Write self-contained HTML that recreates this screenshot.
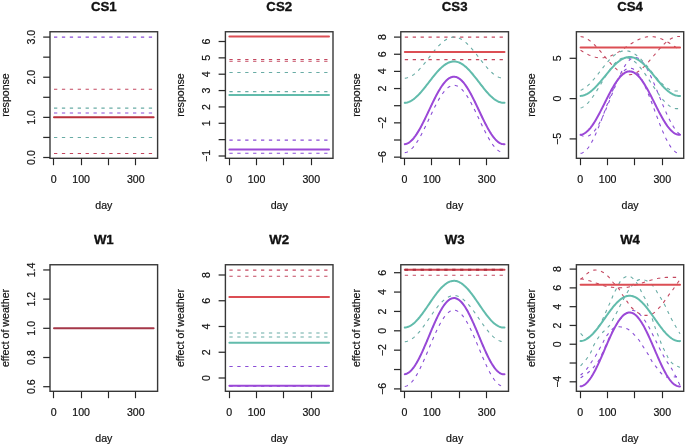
<!DOCTYPE html><html><head><meta charset="utf-8"><style>html,body{margin:0;padding:0;background:#fff;}svg{display:block}text{font-family:"Liberation Sans",Arial,sans-serif;fill:#111;stroke:#111;stroke-width:0.2px}text.t{stroke-width:0.35px}</style></head><body>
<svg width="685" height="445" viewBox="0 0 685 445">
<rect width="685" height="445" fill="#fff"/>
<defs><clipPath id="c00"><rect x="50.0" y="31.75" width="107.6" height="126.55000000000001"/></clipPath></defs>
<g clip-path="url(#c00)">
<path d="M53.99,37.1 L153.61,37.1" fill="none" stroke="rgb(138,78,214)" stroke-width="1.1" stroke-dasharray="3.3 4.6"/>
<path d="M53.99,112.95 L153.61,112.95" fill="none" stroke="rgb(138,78,214)" stroke-width="1.1" stroke-dasharray="3.3 4.6"/>
<path d="M53.99,108.14 L153.61,108.14" fill="none" stroke="rgb(105,172,165)" stroke-width="1.1" stroke-dasharray="3.3 4.6"/>
<path d="M53.99,137.43 L153.61,137.43" fill="none" stroke="rgb(105,172,165)" stroke-width="1.1" stroke-dasharray="3.3 4.6"/>
<path d="M53.99,89.27 L153.61,89.27" fill="none" stroke="rgb(196,72,96)" stroke-width="1.1" stroke-dasharray="3.3 4.6"/>
<path d="M53.99,153.49 L153.61,153.49" fill="none" stroke="rgb(196,72,96)" stroke-width="1.1" stroke-dasharray="3.3 4.6"/>
<path d="M53.99,117.37 L153.61,117.37" fill="none" stroke="rgb(185,48,60)" stroke-width="2.0" stroke-linecap="round" stroke-linejoin="round"/>
</g>
<rect x="50.0" y="31.75" width="107.6" height="126.55" fill="none" stroke="#383838" stroke-width="1.4"/>
<line x1="43.2" y1="157.5" x2="50.0" y2="157.5" stroke="#2a2a2a" stroke-width="1.25"/>
<text x="34.8" y="157.5" font-size="10.6" text-anchor="middle" transform="rotate(-90 34.8 157.5)">0.0</text>
<line x1="43.2" y1="137.43" x2="50.0" y2="137.43" stroke="#2a2a2a" stroke-width="1.25"/>
<line x1="43.2" y1="117.37" x2="50.0" y2="117.37" stroke="#2a2a2a" stroke-width="1.25"/>
<text x="34.8" y="117.37" font-size="10.6" text-anchor="middle" transform="rotate(-90 34.8 117.37)">1.0</text>
<line x1="43.2" y1="97.3" x2="50.0" y2="97.3" stroke="#2a2a2a" stroke-width="1.25"/>
<line x1="43.2" y1="77.23" x2="50.0" y2="77.23" stroke="#2a2a2a" stroke-width="1.25"/>
<text x="34.8" y="77.23" font-size="10.6" text-anchor="middle" transform="rotate(-90 34.8 77.23)">2.0</text>
<line x1="43.2" y1="57.17" x2="50.0" y2="57.17" stroke="#2a2a2a" stroke-width="1.25"/>
<line x1="43.2" y1="37.1" x2="50.0" y2="37.1" stroke="#2a2a2a" stroke-width="1.25"/>
<text x="34.8" y="37.1" font-size="10.6" text-anchor="middle" transform="rotate(-90 34.8 37.1)">3.0</text>
<line x1="53.5" y1="158.3" x2="53.5" y2="165.2" stroke="#262626" stroke-width="1.15"/>
<text x="53.71" y="182.5" font-size="10.6" text-anchor="middle">0</text>
<line x1="81.5" y1="158.3" x2="81.5" y2="165.2" stroke="#262626" stroke-width="1.15"/>
<text x="81.08" y="182.5" font-size="10.6" text-anchor="middle">100</text>
<line x1="108.5" y1="158.3" x2="108.5" y2="165.2" stroke="#262626" stroke-width="1.15"/>
<line x1="135.5" y1="158.3" x2="135.5" y2="165.2" stroke="#262626" stroke-width="1.15"/>
<text x="135.82" y="182.5" font-size="10.6" text-anchor="middle">300</text>
<text x="103.8" y="208.5" font-size="10.6" text-anchor="middle">day</text>
<text x="8.9" y="95.03" font-size="10.6" text-anchor="middle" transform="rotate(-90 8.9 95.03)">response</text>
<text x="103.8" y="10.9" font-size="13.2" font-weight="bold" text-anchor="middle" class="t">CS1</text>
<defs><clipPath id="c10"><rect x="225.4" y="31.75" width="107.6" height="126.55000000000001"/></clipPath></defs>
<g clip-path="url(#c10)">
<path d="M229.39,59.49 L329.01,59.49" fill="none" stroke="rgb(196,72,96)" stroke-width="1.1" stroke-dasharray="3.3 4.6"/>
<path d="M229.39,61.29 L329.01,61.29" fill="none" stroke="rgb(196,72,96)" stroke-width="1.1" stroke-dasharray="3.3 4.6"/>
<path d="M229.39,72.51 L329.01,72.51" fill="none" stroke="rgb(105,172,165)" stroke-width="1.1" stroke-dasharray="3.3 4.6"/>
<path d="M229.39,91.62 L329.01,91.62" fill="none" stroke="rgb(105,172,165)" stroke-width="1.1" stroke-dasharray="3.3 4.6"/>
<path d="M229.39,140.1 L329.01,140.1" fill="none" stroke="rgb(138,78,214)" stroke-width="1.1" stroke-dasharray="3.3 4.6"/>
<path d="M229.39,153.3 L329.01,153.3" fill="none" stroke="rgb(138,78,214)" stroke-width="1.1" stroke-dasharray="3.3 4.6"/>
<path d="M229.39,95 L329.01,95" fill="none" stroke="rgb(98,188,172)" stroke-width="2.0" stroke-linecap="round" stroke-linejoin="round"/>
<path d="M229.39,149.51 L329.01,149.51" fill="none" stroke="rgb(155,72,215)" stroke-width="2.0" stroke-linecap="round" stroke-linejoin="round"/>
<path d="M229.39,36.43 L329.01,36.43" fill="none" stroke="rgb(220,78,84)" stroke-width="2.0" stroke-linecap="round" stroke-linejoin="round"/>
</g>
<rect x="225.4" y="31.75" width="107.6" height="126.55" fill="none" stroke="#383838" stroke-width="1.4"/>
<line x1="218.6" y1="156" x2="225.4" y2="156" stroke="#2a2a2a" stroke-width="1.25"/>
<text x="210.2" y="156" font-size="10.6" text-anchor="middle" transform="rotate(-90 210.2 156)">−1</text>
<line x1="218.6" y1="139.64" x2="225.4" y2="139.64" stroke="#2a2a2a" stroke-width="1.25"/>
<line x1="218.6" y1="123.29" x2="225.4" y2="123.29" stroke="#2a2a2a" stroke-width="1.25"/>
<text x="210.2" y="123.29" font-size="10.6" text-anchor="middle" transform="rotate(-90 210.2 123.29)">1</text>
<line x1="218.6" y1="106.93" x2="225.4" y2="106.93" stroke="#2a2a2a" stroke-width="1.25"/>
<text x="210.2" y="106.93" font-size="10.6" text-anchor="middle" transform="rotate(-90 210.2 106.93)">2</text>
<line x1="218.6" y1="90.57" x2="225.4" y2="90.57" stroke="#2a2a2a" stroke-width="1.25"/>
<text x="210.2" y="90.57" font-size="10.6" text-anchor="middle" transform="rotate(-90 210.2 90.57)">3</text>
<line x1="218.6" y1="74.21" x2="225.4" y2="74.21" stroke="#2a2a2a" stroke-width="1.25"/>
<text x="210.2" y="74.21" font-size="10.6" text-anchor="middle" transform="rotate(-90 210.2 74.21)">4</text>
<line x1="218.6" y1="57.86" x2="225.4" y2="57.86" stroke="#2a2a2a" stroke-width="1.25"/>
<text x="210.2" y="57.86" font-size="10.6" text-anchor="middle" transform="rotate(-90 210.2 57.86)">5</text>
<line x1="218.6" y1="41.5" x2="225.4" y2="41.5" stroke="#2a2a2a" stroke-width="1.25"/>
<text x="210.2" y="41.5" font-size="10.6" text-anchor="middle" transform="rotate(-90 210.2 41.5)">6</text>
<line x1="229.5" y1="158.3" x2="229.5" y2="165.2" stroke="#262626" stroke-width="1.15"/>
<text x="229.11" y="182.5" font-size="10.6" text-anchor="middle">0</text>
<line x1="256.5" y1="158.3" x2="256.5" y2="165.2" stroke="#262626" stroke-width="1.15"/>
<text x="256.48" y="182.5" font-size="10.6" text-anchor="middle">100</text>
<line x1="283.5" y1="158.3" x2="283.5" y2="165.2" stroke="#262626" stroke-width="1.15"/>
<line x1="311.5" y1="158.3" x2="311.5" y2="165.2" stroke="#262626" stroke-width="1.15"/>
<text x="311.22" y="182.5" font-size="10.6" text-anchor="middle">300</text>
<text x="279.2" y="208.5" font-size="10.6" text-anchor="middle">day</text>
<text x="184.3" y="95.03" font-size="10.6" text-anchor="middle" transform="rotate(-90 184.3 95.03)">response</text>
<text x="279.2" y="10.9" font-size="13.2" font-weight="bold" text-anchor="middle" class="t">CS2</text>
<defs><clipPath id="c20"><rect x="400.8" y="31.75" width="107.69999999999999" height="126.55000000000001"/></clipPath></defs>
<g clip-path="url(#c20)">
<path d="M404.79,37.1 L504.51,37.1" fill="none" stroke="rgb(196,72,96)" stroke-width="1.1" stroke-dasharray="3.3 4.6"/>
<path d="M404.79,59.65 L504.51,59.65" fill="none" stroke="rgb(196,72,96)" stroke-width="1.1" stroke-dasharray="3.3 4.6"/>
<path d="M404.79,78.23 L405.62,78.15 L406.45,78.01 L407.28,77.82 L408.11,77.57 L408.94,77.26 L409.78,76.9 L410.61,76.5 L411.44,76.03 L412.27,75.52 L413.1,74.96 L413.93,74.36 L414.76,73.71 L415.59,73.01 L416.42,72.27 L417.25,71.49 L418.09,70.68 L418.92,69.83 L419.75,68.95 L420.58,68.03 L421.41,67.09 L422.24,66.12 L423.07,65.13 L423.9,64.12 L424.73,63.09 L425.56,62.05 L426.4,60.99 L427.23,59.93 L428.06,58.85 L428.89,57.78 L429.72,56.71 L430.55,55.63 L431.38,54.57 L432.21,53.51 L433.04,52.46 L433.87,51.43 L434.71,50.42 L435.54,49.42 L436.37,48.45 L437.2,47.5 L438.03,46.58 L438.86,45.69 L439.69,44.84 L440.52,44.01 L441.35,43.23 L442.18,42.49 L443.02,41.78 L443.85,41.12 L444.68,40.51 L445.51,39.94 L446.34,39.42 L447.17,38.95 L448,38.53 L448.83,38.16 L449.66,37.85 L450.49,37.59 L451.33,37.38 L452.16,37.23 L452.99,37.14 L453.82,37.1 L454.65,37.12 L455.48,37.19 L456.31,37.32 L457.14,37.51 L457.97,37.75 L458.81,38.04 L459.64,38.39 L460.47,38.79 L461.3,39.25 L462.13,39.75 L462.96,40.3 L463.79,40.9 L464.62,41.54 L465.45,42.23 L466.28,42.96 L467.12,43.73 L467.95,44.54 L468.78,45.39 L469.61,46.27 L470.44,47.18 L471.27,48.11 L472.1,49.08 L472.93,50.07 L473.76,51.07 L474.59,52.1 L475.43,53.14 L476.26,54.2 L477.09,55.26 L477.92,56.33 L478.75,57.4 L479.58,58.48 L480.41,59.55 L481.24,60.62 L482.07,61.68 L482.9,62.72 L483.74,63.76 L484.57,64.78 L485.4,65.77 L486.23,66.75 L487.06,67.7 L487.89,68.63 L488.72,69.52 L489.55,70.38 L490.38,71.21 L491.21,72 L492.05,72.75 L492.88,73.47 L493.71,74.13 L494.54,74.76 L495.37,75.33 L496.2,75.86 L497.03,76.34 L497.86,76.77 L498.69,77.14 L499.52,77.46 L500.36,77.73 L501.19,77.95 L502.02,78.11 L502.85,78.21 L503.68,78.26 L504.51,78.25" fill="none" stroke="rgb(105,172,165)" stroke-width="1.1" stroke-dasharray="3.3 4.6"/>
<path d="M404.79,102.84 L405.62,102.76 L406.45,102.62 L407.28,102.42 L408.11,102.17 L408.94,101.87 L409.78,101.51 L410.61,101.09 L411.44,100.63 L412.27,100.12 L413.1,99.55 L413.93,98.94 L414.76,98.29 L415.59,97.59 L416.42,96.84 L417.25,96.06 L418.09,95.24 L418.92,94.39 L419.75,93.5 L420.58,92.58 L421.41,91.63 L422.24,90.66 L423.07,89.66 L423.9,88.64 L424.73,87.6 L425.56,86.55 L426.4,85.49 L427.23,84.42 L428.06,83.34 L428.89,82.26 L429.72,81.18 L430.55,80.1 L431.38,79.03 L432.21,77.97 L433.04,76.91 L433.87,75.88 L434.71,74.85 L435.54,73.85 L436.37,72.87 L437.2,71.92 L438.03,71 L438.86,70.1 L439.69,69.24 L440.52,68.41 L441.35,67.62 L442.18,66.87 L443.02,66.16 L443.85,65.5 L444.68,64.88 L445.51,64.31 L446.34,63.78 L447.17,63.31 L448,62.89 L448.83,62.52 L449.66,62.2 L450.49,61.94 L451.33,61.74 L452.16,61.59 L452.99,61.49 L453.82,61.45 L454.65,61.47 L455.48,61.55 L456.31,61.68 L457.14,61.86 L457.97,62.11 L458.81,62.4 L459.64,62.75 L460.47,63.16 L461.3,63.61 L462.13,64.12 L462.96,64.67 L463.79,65.28 L464.62,65.93 L465.45,66.62 L466.28,67.35 L467.12,68.13 L467.95,68.94 L468.78,69.79 L469.61,70.68 L470.44,71.59 L471.27,72.54 L472.1,73.51 L472.93,74.5 L473.76,75.51 L474.59,76.55 L475.43,77.59 L476.26,78.66 L477.09,79.73 L477.92,80.8 L478.75,81.88 L479.58,82.96 L480.41,84.04 L481.24,85.12 L482.07,86.18 L482.9,87.24 L483.74,88.28 L484.57,89.3 L485.4,90.31 L486.23,91.29 L487.06,92.25 L487.89,93.18 L488.72,94.08 L489.55,94.95 L490.38,95.78 L491.21,96.57 L492.05,97.33 L492.88,98.05 L493.71,98.72 L494.54,99.34 L495.37,99.92 L496.2,100.46 L497.03,100.94 L497.86,101.37 L498.69,101.75 L499.52,102.07 L500.36,102.34 L501.19,102.56 L502.02,102.72 L502.85,102.82 L503.68,102.87 L504.51,102.86" fill="none" stroke="rgb(105,172,165)" stroke-width="1.1" stroke-dasharray="3.3 4.6"/>
<path d="M404.79,152.65 L405.62,152.51 L406.45,152.28 L407.28,151.96 L408.11,151.55 L408.94,151.06 L409.78,150.47 L410.61,149.8 L411.44,149.05 L412.27,148.21 L413.1,147.29 L413.93,146.3 L414.76,145.23 L415.59,144.09 L416.42,142.89 L417.25,141.61 L418.09,140.28 L418.92,138.89 L419.75,137.44 L420.58,135.94 L421.41,134.4 L422.24,132.81 L423.07,131.19 L423.9,129.53 L424.73,127.85 L425.56,126.14 L426.4,124.41 L427.23,122.67 L428.06,120.91 L428.89,119.16 L429.72,117.4 L430.55,115.64 L431.38,113.9 L432.21,112.16 L433.04,110.45 L433.87,108.76 L434.71,107.1 L435.54,105.47 L436.37,103.88 L437.2,102.33 L438.03,100.82 L438.86,99.36 L439.69,97.96 L440.52,96.61 L441.35,95.33 L442.18,94.11 L443.02,92.96 L443.85,91.88 L444.68,90.87 L445.51,89.94 L446.34,89.09 L447.17,88.32 L448,87.63 L448.83,87.03 L449.66,86.51 L450.49,86.09 L451.33,85.75 L452.16,85.51 L452.99,85.35 L453.82,85.29 L454.65,85.32 L455.48,85.44 L456.31,85.66 L457.14,85.96 L457.97,86.36 L458.81,86.84 L459.64,87.41 L460.47,88.07 L461.3,88.81 L462.13,89.63 L462.96,90.53 L463.79,91.51 L464.62,92.57 L465.45,93.7 L466.28,94.89 L467.12,96.16 L467.95,97.48 L468.78,98.86 L469.61,100.3 L470.44,101.79 L471.27,103.33 L472.1,104.91 L472.93,106.52 L473.76,108.17 L474.59,109.85 L475.43,111.56 L476.26,113.29 L477.09,115.03 L477.92,116.78 L478.75,118.54 L479.58,120.3 L480.41,122.05 L481.24,123.8 L482.07,125.53 L482.9,127.25 L483.74,128.94 L484.57,130.61 L485.4,132.25 L486.23,133.85 L487.06,135.4 L487.89,136.92 L488.72,138.38 L489.55,139.79 L490.38,141.15 L491.21,142.45 L492.05,143.68 L492.88,144.84 L493.71,145.93 L494.54,146.95 L495.37,147.9 L496.2,148.76 L497.03,149.55 L497.86,150.25 L498.69,150.86 L499.52,151.39 L500.36,151.83 L501.19,152.18 L502.02,152.44 L502.85,152.61 L503.68,152.69 L504.51,152.67" fill="none" stroke="rgb(138,78,214)" stroke-width="1.1" stroke-dasharray="3.3 4.6"/>
<path d="M404.79,144.16 L405.62,144.02 L406.45,143.79 L407.28,143.47 L408.11,143.06 L408.94,142.57 L409.78,141.98 L410.61,141.31 L411.44,140.55 L412.27,139.71 L413.1,138.8 L413.93,137.8 L414.76,136.73 L415.59,135.59 L416.42,134.38 L417.25,133.11 L418.09,131.77 L418.92,130.38 L419.75,128.93 L420.58,127.43 L421.41,125.89 L422.24,124.3 L423.07,122.67 L423.9,121.01 L424.73,119.33 L425.56,117.62 L426.4,115.89 L427.23,114.14 L428.06,112.38 L428.89,110.62 L429.72,108.86 L430.55,107.11 L431.38,105.36 L432.21,103.62 L433.04,101.91 L433.87,100.22 L434.71,98.55 L435.54,96.92 L436.37,95.33 L437.2,93.77 L438.03,92.26 L438.86,90.81 L439.69,89.4 L440.52,88.05 L441.35,86.77 L442.18,85.55 L443.02,84.39 L443.85,83.31 L444.68,82.3 L445.51,81.37 L446.34,80.52 L447.17,79.74 L448,79.06 L448.83,78.46 L449.66,77.94 L450.49,77.52 L451.33,77.18 L452.16,76.93 L452.99,76.78 L453.82,76.72 L454.65,76.75 L455.48,76.87 L456.31,77.08 L457.14,77.39 L457.97,77.78 L458.81,78.26 L459.64,78.84 L460.47,79.49 L461.3,80.24 L462.13,81.06 L462.96,81.96 L463.79,82.95 L464.62,84 L465.45,85.13 L466.28,86.33 L467.12,87.59 L467.95,88.92 L468.78,90.31 L469.61,91.75 L470.44,93.24 L471.27,94.77 L472.1,96.36 L472.93,97.97 L473.76,99.63 L474.59,101.31 L475.43,103.02 L476.26,104.75 L477.09,106.49 L477.92,108.24 L478.75,110 L479.58,111.77 L480.41,113.52 L481.24,115.27 L482.07,117.01 L482.9,118.73 L483.74,120.42 L484.57,122.09 L485.4,123.73 L486.23,125.33 L487.06,126.89 L487.89,128.41 L488.72,129.88 L489.55,131.29 L490.38,132.65 L491.21,133.94 L492.05,135.18 L492.88,136.34 L493.71,137.44 L494.54,138.46 L495.37,139.4 L496.2,140.27 L497.03,141.05 L497.86,141.75 L498.69,142.37 L499.52,142.9 L500.36,143.34 L501.19,143.69 L502.02,143.95 L502.85,144.12 L503.68,144.2 L504.51,144.18" fill="none" stroke="rgb(138,78,214)" stroke-width="1.1" stroke-dasharray="3.3 4.6"/>
<path d="M404.79,102.84 L405.62,102.76 L406.45,102.62 L407.28,102.42 L408.11,102.17 L408.94,101.87 L409.78,101.51 L410.61,101.09 L411.44,100.63 L412.27,100.12 L413.1,99.55 L413.93,98.94 L414.76,98.29 L415.59,97.59 L416.42,96.84 L417.25,96.06 L418.09,95.24 L418.92,94.39 L419.75,93.5 L420.58,92.58 L421.41,91.63 L422.24,90.66 L423.07,89.66 L423.9,88.64 L424.73,87.6 L425.56,86.55 L426.4,85.49 L427.23,84.42 L428.06,83.34 L428.89,82.26 L429.72,81.18 L430.55,80.1 L431.38,79.03 L432.21,77.97 L433.04,76.91 L433.87,75.88 L434.71,74.85 L435.54,73.85 L436.37,72.87 L437.2,71.92 L438.03,71 L438.86,70.1 L439.69,69.24 L440.52,68.41 L441.35,67.62 L442.18,66.87 L443.02,66.16 L443.85,65.5 L444.68,64.88 L445.51,64.31 L446.34,63.78 L447.17,63.31 L448,62.89 L448.83,62.52 L449.66,62.2 L450.49,61.94 L451.33,61.74 L452.16,61.59 L452.99,61.49 L453.82,61.45 L454.65,61.47 L455.48,61.55 L456.31,61.68 L457.14,61.86 L457.97,62.11 L458.81,62.4 L459.64,62.75 L460.47,63.16 L461.3,63.61 L462.13,64.12 L462.96,64.67 L463.79,65.28 L464.62,65.93 L465.45,66.62 L466.28,67.35 L467.12,68.13 L467.95,68.94 L468.78,69.79 L469.61,70.68 L470.44,71.59 L471.27,72.54 L472.1,73.51 L472.93,74.5 L473.76,75.51 L474.59,76.55 L475.43,77.59 L476.26,78.66 L477.09,79.73 L477.92,80.8 L478.75,81.88 L479.58,82.96 L480.41,84.04 L481.24,85.12 L482.07,86.18 L482.9,87.24 L483.74,88.28 L484.57,89.3 L485.4,90.31 L486.23,91.29 L487.06,92.25 L487.89,93.18 L488.72,94.08 L489.55,94.95 L490.38,95.78 L491.21,96.57 L492.05,97.33 L492.88,98.05 L493.71,98.72 L494.54,99.34 L495.37,99.92 L496.2,100.46 L497.03,100.94 L497.86,101.37 L498.69,101.75 L499.52,102.07 L500.36,102.34 L501.19,102.56 L502.02,102.72 L502.85,102.82 L503.68,102.87 L504.51,102.86" fill="none" stroke="rgb(98,188,172)" stroke-width="2.0" stroke-linecap="round" stroke-linejoin="round"/>
<path d="M404.79,144.16 L405.62,144.02 L406.45,143.79 L407.28,143.47 L408.11,143.06 L408.94,142.57 L409.78,141.98 L410.61,141.31 L411.44,140.55 L412.27,139.71 L413.1,138.8 L413.93,137.8 L414.76,136.73 L415.59,135.59 L416.42,134.38 L417.25,133.11 L418.09,131.77 L418.92,130.38 L419.75,128.93 L420.58,127.43 L421.41,125.89 L422.24,124.3 L423.07,122.67 L423.9,121.01 L424.73,119.33 L425.56,117.62 L426.4,115.89 L427.23,114.14 L428.06,112.38 L428.89,110.62 L429.72,108.86 L430.55,107.11 L431.38,105.36 L432.21,103.62 L433.04,101.91 L433.87,100.22 L434.71,98.55 L435.54,96.92 L436.37,95.33 L437.2,93.77 L438.03,92.26 L438.86,90.81 L439.69,89.4 L440.52,88.05 L441.35,86.77 L442.18,85.55 L443.02,84.39 L443.85,83.31 L444.68,82.3 L445.51,81.37 L446.34,80.52 L447.17,79.74 L448,79.06 L448.83,78.46 L449.66,77.94 L450.49,77.52 L451.33,77.18 L452.16,76.93 L452.99,76.78 L453.82,76.72 L454.65,76.75 L455.48,76.87 L456.31,77.08 L457.14,77.39 L457.97,77.78 L458.81,78.26 L459.64,78.84 L460.47,79.49 L461.3,80.24 L462.13,81.06 L462.96,81.96 L463.79,82.95 L464.62,84 L465.45,85.13 L466.28,86.33 L467.12,87.59 L467.95,88.92 L468.78,90.31 L469.61,91.75 L470.44,93.24 L471.27,94.77 L472.1,96.36 L472.93,97.97 L473.76,99.63 L474.59,101.31 L475.43,103.02 L476.26,104.75 L477.09,106.49 L477.92,108.24 L478.75,110 L479.58,111.77 L480.41,113.52 L481.24,115.27 L482.07,117.01 L482.9,118.73 L483.74,120.42 L484.57,122.09 L485.4,123.73 L486.23,125.33 L487.06,126.89 L487.89,128.41 L488.72,129.88 L489.55,131.29 L490.38,132.65 L491.21,133.94 L492.05,135.18 L492.88,136.34 L493.71,137.44 L494.54,138.46 L495.37,139.4 L496.2,140.27 L497.03,141.05 L497.86,141.75 L498.69,142.37 L499.52,142.9 L500.36,143.34 L501.19,143.69 L502.02,143.95 L502.85,144.12 L503.68,144.2 L504.51,144.18" fill="none" stroke="rgb(155,72,215)" stroke-width="2.0" stroke-linecap="round" stroke-linejoin="round"/>
<path d="M404.79,51.93 L504.51,51.93" fill="none" stroke="rgb(220,78,84)" stroke-width="2.0" stroke-linecap="round" stroke-linejoin="round"/>
</g>
<rect x="400.8" y="31.75" width="107.7" height="126.55" fill="none" stroke="#383838" stroke-width="1.4"/>
<line x1="394" y1="157.15" x2="400.8" y2="157.15" stroke="#2a2a2a" stroke-width="1.25"/>
<text x="385.6" y="157.15" font-size="10.6" text-anchor="middle" transform="rotate(-90 385.6 157.15)">−6</text>
<line x1="394" y1="140" x2="400.8" y2="140" stroke="#2a2a2a" stroke-width="1.25"/>
<line x1="394" y1="122.85" x2="400.8" y2="122.85" stroke="#2a2a2a" stroke-width="1.25"/>
<text x="385.6" y="122.85" font-size="10.6" text-anchor="middle" transform="rotate(-90 385.6 122.85)">−2</text>
<line x1="394" y1="105.7" x2="400.8" y2="105.7" stroke="#2a2a2a" stroke-width="1.25"/>
<line x1="394" y1="88.55" x2="400.8" y2="88.55" stroke="#2a2a2a" stroke-width="1.25"/>
<text x="385.6" y="88.55" font-size="10.6" text-anchor="middle" transform="rotate(-90 385.6 88.55)">2</text>
<line x1="394" y1="71.4" x2="400.8" y2="71.4" stroke="#2a2a2a" stroke-width="1.25"/>
<text x="385.6" y="71.4" font-size="10.6" text-anchor="middle" transform="rotate(-90 385.6 71.4)">4</text>
<line x1="394" y1="54.25" x2="400.8" y2="54.25" stroke="#2a2a2a" stroke-width="1.25"/>
<text x="385.6" y="54.25" font-size="10.6" text-anchor="middle" transform="rotate(-90 385.6 54.25)">6</text>
<line x1="394" y1="37.1" x2="400.8" y2="37.1" stroke="#2a2a2a" stroke-width="1.25"/>
<text x="385.6" y="37.1" font-size="10.6" text-anchor="middle" transform="rotate(-90 385.6 37.1)">8</text>
<line x1="404.5" y1="158.3" x2="404.5" y2="165.2" stroke="#262626" stroke-width="1.15"/>
<text x="404.51" y="182.5" font-size="10.6" text-anchor="middle">0</text>
<line x1="431.5" y1="158.3" x2="431.5" y2="165.2" stroke="#262626" stroke-width="1.15"/>
<text x="431.91" y="182.5" font-size="10.6" text-anchor="middle">100</text>
<line x1="459.5" y1="158.3" x2="459.5" y2="165.2" stroke="#262626" stroke-width="1.15"/>
<line x1="486.5" y1="158.3" x2="486.5" y2="165.2" stroke="#262626" stroke-width="1.15"/>
<text x="486.7" y="182.5" font-size="10.6" text-anchor="middle">300</text>
<text x="454.65" y="208.5" font-size="10.6" text-anchor="middle">day</text>
<text x="359.7" y="95.03" font-size="10.6" text-anchor="middle" transform="rotate(-90 359.7 95.03)">response</text>
<text x="454.65" y="10.9" font-size="13.2" font-weight="bold" text-anchor="middle" class="t">CS3</text>
<defs><clipPath id="c30"><rect x="576.4" y="31.75" width="107.30000000000007" height="126.55000000000001"/></clipPath></defs>
<g clip-path="url(#c30)">
<path d="M580.58,36.56 L581.41,36.68 L582.24,36.85 L583.06,37.08 L583.89,37.35 L584.72,37.67 L585.55,38.05 L586.38,38.47 L587.21,38.93 L588.04,39.45 L588.86,40 L589.69,40.6 L590.52,41.24 L591.35,41.92 L592.18,42.64 L593.01,43.39 L593.84,44.18 L594.67,44.99 L595.49,45.84 L596.32,46.71 L597.15,47.6 L597.98,48.52 L598.81,49.46 L599.64,50.41 L600.47,51.38 L601.3,52.36 L602.12,53.35 L602.95,54.34 L603.78,55.34 L604.61,56.34 L605.44,57.34 L606.27,58.33 L607.1,59.31 L607.92,60.29 L608.75,61.25 L609.58,62.2 L610.41,63.12 L611.24,64.03 L612.07,64.92 L612.9,65.77 L613.73,66.61 L614.55,67.41 L615.38,68.18 L616.21,68.91 L617.04,69.61 L617.87,70.27 L618.7,70.89 L619.53,71.47 L620.36,72.01 L621.18,72.5 L622.01,72.94 L622.84,73.34 L623.67,73.69 L624.5,73.99 L625.33,74.24 L626.16,74.44 L626.99,74.59 L627.81,74.68 L628.64,74.73 L629.47,74.72 L630.3,74.66 L631.13,74.54 L631.96,74.38 L632.79,74.16 L633.61,73.9 L634.44,73.58 L635.27,73.22 L636.1,72.81 L636.93,72.35 L637.76,71.84 L638.59,71.29 L639.42,70.7 L640.24,70.07 L641.07,69.39 L641.9,68.68 L642.73,67.94 L643.56,67.16 L644.39,66.34 L645.22,65.5 L646.05,64.64 L646.87,63.74 L647.7,62.83 L648.53,61.9 L649.36,60.94 L650.19,59.98 L651.02,59 L651.85,58.01 L652.67,57.02 L653.5,56.02 L654.33,55.02 L655.16,54.03 L655.99,53.03 L656.82,52.05 L657.65,51.07 L658.48,50.11 L659.3,49.16 L660.13,48.23 L660.96,47.32 L661.79,46.43 L662.62,45.56 L663.45,44.73 L664.28,43.92 L665.11,43.15 L665.93,42.41 L666.76,41.7 L667.59,41.03 L668.42,40.41 L669.25,39.82 L670.08,39.28 L670.91,38.78 L671.74,38.33 L672.56,37.92 L673.39,37.56 L674.22,37.26 L675.05,37 L675.88,36.79 L676.71,36.64 L677.54,36.53 L678.36,36.48 L679.19,36.48 L680.02,36.53" fill="none" stroke="rgb(196,72,96)" stroke-width="1.1" stroke-dasharray="3.3 4.6"/>
<path d="M580.58,50.25 L581.41,50.78 L582.24,51.3 L583.06,51.81 L583.89,52.3 L584.72,52.79 L585.55,53.25 L586.38,53.7 L587.21,54.13 L588.04,54.55 L588.86,54.94 L589.69,55.31 L590.52,55.66 L591.35,55.99 L592.18,56.29 L593.01,56.57 L593.84,56.82 L594.67,57.05 L595.49,57.25 L596.32,57.42 L597.15,57.57 L597.98,57.68 L598.81,57.77 L599.64,57.83 L600.47,57.86 L601.3,57.86 L602.12,57.84 L602.95,57.78 L603.78,57.7 L604.61,57.58 L605.44,57.44 L606.27,57.27 L607.1,57.07 L607.92,56.85 L608.75,56.6 L609.58,56.32 L610.41,56.02 L611.24,55.7 L612.07,55.35 L612.9,54.98 L613.73,54.59 L614.55,54.18 L615.38,53.75 L616.21,53.3 L617.04,52.84 L617.87,52.36 L618.7,51.86 L619.53,51.36 L620.36,50.84 L621.18,50.31 L622.01,49.78 L622.84,49.23 L623.67,48.69 L624.5,48.13 L625.33,47.58 L626.16,47.02 L626.99,46.47 L627.81,45.92 L628.64,45.37 L629.47,44.82 L630.3,44.28 L631.13,43.75 L631.96,43.23 L632.79,42.72 L633.61,42.23 L634.44,41.74 L635.27,41.28 L636.1,40.82 L636.93,40.39 L637.76,39.97 L638.59,39.58 L639.42,39.2 L640.24,38.85 L641.07,38.51 L641.9,38.21 L642.73,37.92 L643.56,37.67 L644.39,37.44 L645.22,37.23 L646.05,37.05 L646.87,36.91 L647.7,36.78 L648.53,36.69 L649.36,36.63 L650.19,36.59 L651.02,36.58 L651.85,36.61 L652.67,36.66 L653.5,36.74 L654.33,36.85 L655.16,36.99 L655.99,37.15 L656.82,37.34 L657.65,37.56 L658.48,37.81 L659.3,38.08 L660.13,38.38 L660.96,38.7 L661.79,39.04 L662.62,39.41 L663.45,39.8 L664.28,40.2 L665.11,40.63 L665.93,41.07 L666.76,41.54 L667.59,42.01 L668.42,42.5 L669.25,43.01 L670.08,43.52 L670.91,44.05 L671.74,44.59 L672.56,45.13 L673.39,45.67 L674.22,46.23 L675.05,46.78 L675.88,47.34 L676.71,47.89 L677.54,48.44 L678.36,48.99 L679.19,49.54 L680.02,50.08" fill="none" stroke="rgb(196,72,96)" stroke-width="1.1" stroke-dasharray="3.3 4.6"/>
<path d="M580.58,90.25 L581.41,89.92 L582.24,89.54 L583.06,89.1 L583.89,88.6 L584.72,88.06 L585.55,87.47 L586.38,86.83 L587.21,86.14 L588.04,85.41 L588.86,84.63 L589.69,83.82 L590.52,82.97 L591.35,82.08 L592.18,81.16 L593.01,80.21 L593.84,79.24 L594.67,78.24 L595.49,77.22 L596.32,76.18 L597.15,75.13 L597.98,74.07 L598.81,73 L599.64,71.92 L600.47,70.84 L601.3,69.76 L602.12,68.69 L602.95,67.63 L603.78,66.57 L604.61,65.53 L605.44,64.5 L606.27,63.5 L607.1,62.51 L607.92,61.56 L608.75,60.62 L609.58,59.72 L610.41,58.85 L611.24,58.02 L612.07,57.22 L612.9,56.46 L613.73,55.75 L614.55,55.07 L615.38,54.44 L616.21,53.85 L617.04,53.31 L617.87,52.82 L618.7,52.38 L619.53,51.99 L620.36,51.65 L621.18,51.36 L622.01,51.13 L622.84,50.95 L623.67,50.82 L624.5,50.74 L625.33,50.71 L626.16,50.74 L626.99,50.82 L627.81,50.96 L628.64,51.14 L629.47,51.38 L630.3,51.66 L631.13,52 L631.96,52.38 L632.79,52.81 L633.61,53.29 L634.44,53.81 L635.27,54.37 L636.1,54.98 L636.93,55.63 L637.76,56.31 L638.59,57.04 L639.42,57.79 L640.24,58.59 L641.07,59.41 L641.9,60.26 L642.73,61.14 L643.56,62.05 L644.39,62.98 L645.22,63.93 L646.05,64.89 L646.87,65.88 L647.7,66.88 L648.53,67.89 L649.36,68.9 L650.19,69.93 L651.02,70.96 L651.85,71.98 L652.67,73.01 L653.5,74.04 L654.33,75.05 L655.16,76.06 L655.99,77.05 L656.82,78.03 L657.65,78.99 L658.48,79.94 L659.3,80.86 L660.13,81.75 L660.96,82.62 L661.79,83.45 L662.62,84.26 L663.45,85.03 L664.28,85.76 L665.11,86.45 L665.93,87.1 L666.76,87.71 L667.59,88.27 L668.42,88.78 L669.25,89.25 L670.08,89.66 L670.91,90.02 L671.74,90.33 L672.56,90.59 L673.39,90.79 L674.22,90.93 L675.05,91.02 L675.88,91.05 L676.71,91.03 L677.54,90.94 L678.36,90.8 L679.19,90.6 L680.02,90.35" fill="none" stroke="rgb(105,172,165)" stroke-width="1.1" stroke-dasharray="3.3 4.6"/>
<path d="M580.58,108.09 L581.41,107.77 L582.24,107.38 L583.06,106.92 L583.89,106.39 L584.72,105.79 L585.55,105.13 L586.38,104.4 L587.21,103.61 L588.04,102.76 L588.86,101.85 L589.69,100.88 L590.52,99.86 L591.35,98.79 L592.18,97.68 L593.01,96.51 L593.84,95.31 L594.67,94.07 L595.49,92.79 L596.32,91.49 L597.15,90.16 L597.98,88.8 L598.81,87.43 L599.64,86.05 L600.47,84.66 L601.3,83.26 L602.12,81.86 L602.95,80.47 L603.78,79.08 L604.61,77.71 L605.44,76.35 L606.27,75.02 L607.1,73.71 L607.92,72.42 L608.75,71.18 L609.58,69.96 L610.41,68.79 L611.24,67.67 L612.07,66.59 L612.9,65.56 L613.73,64.58 L614.55,63.66 L615.38,62.8 L616.21,61.99 L617.04,61.26 L617.87,60.58 L618.7,59.97 L619.53,59.43 L620.36,58.96 L621.18,58.56 L622.01,58.22 L622.84,57.96 L623.67,57.77 L624.5,57.65 L625.33,57.6 L626.16,57.62 L626.99,57.72 L627.81,57.88 L628.64,58.1 L629.47,58.4 L630.3,58.76 L631.13,59.18 L631.96,59.67 L632.79,60.22 L633.61,60.82 L634.44,61.49 L635.27,62.2 L636.1,62.97 L636.93,63.79 L637.76,64.66 L638.59,65.58 L639.42,66.53 L640.24,67.53 L641.07,68.56 L641.9,69.63 L642.73,70.73 L643.56,71.86 L644.39,73.01 L645.22,74.19 L646.05,75.39 L646.87,76.61 L647.7,77.84 L648.53,79.09 L649.36,80.34 L650.19,81.6 L651.02,82.86 L651.85,84.13 L652.67,85.39 L653.5,86.65 L654.33,87.9 L655.16,89.13 L655.99,90.36 L656.82,91.56 L657.65,92.75 L658.48,93.92 L659.3,95.06 L660.13,96.17 L660.96,97.25 L661.79,98.3 L662.62,99.31 L663.45,100.28 L664.28,101.21 L665.11,102.1 L665.93,102.94 L666.76,103.73 L667.59,104.47 L668.42,105.16 L669.25,105.79 L670.08,106.36 L670.91,106.87 L671.74,107.33 L672.56,107.72 L673.39,108.04 L674.22,108.3 L675.05,108.49 L675.88,108.61 L676.71,108.67 L677.54,108.65 L678.36,108.57 L679.19,108.41 L680.02,108.18" fill="none" stroke="rgb(105,172,165)" stroke-width="1.1" stroke-dasharray="3.3 4.6"/>
<path d="M580.58,134.65 L581.41,135.2 L582.24,135.66 L583.06,136.02 L583.89,136.28 L584.72,136.44 L585.55,136.5 L586.38,136.46 L587.21,136.33 L588.04,136.09 L588.86,135.76 L589.69,135.32 L590.52,134.79 L591.35,134.16 L592.18,133.43 L593.01,132.61 L593.84,131.69 L594.67,130.68 L595.49,129.58 L596.32,128.4 L597.15,127.13 L597.98,125.78 L598.81,124.35 L599.64,122.84 L600.47,121.26 L601.3,119.61 L602.12,117.9 L602.95,116.13 L603.78,114.3 L604.61,112.42 L605.44,110.49 L606.27,108.52 L607.1,106.52 L607.92,104.49 L608.75,102.43 L609.58,100.35 L610.41,98.25 L611.24,96.15 L612.07,94.05 L612.9,91.95 L613.73,89.87 L614.55,87.79 L615.38,85.75 L616.21,83.73 L617.04,81.75 L617.87,79.8 L618.7,77.91 L619.53,76.07 L620.36,74.29 L621.18,72.57 L622.01,70.92 L622.84,69.35 L623.67,67.85 L624.5,66.44 L625.33,65.12 L626.16,63.9 L626.99,62.77 L627.81,61.74 L628.64,60.81 L629.47,60 L630.3,59.29 L631.13,58.69 L631.96,58.2 L632.79,57.83 L633.61,57.58 L634.44,57.44 L635.27,57.42 L636.1,57.51 L636.93,57.72 L637.76,58.04 L638.59,58.48 L639.42,59.03 L640.24,59.69 L641.07,60.45 L641.9,61.32 L642.73,62.3 L643.56,63.37 L644.39,64.53 L645.22,65.79 L646.05,67.13 L646.87,68.55 L647.7,70.05 L648.53,71.63 L649.36,73.27 L650.19,74.98 L651.02,76.74 L651.85,78.55 L652.67,80.42 L653.5,82.32 L654.33,84.26 L655.16,86.23 L655.99,88.23 L656.82,90.24 L657.65,92.27 L658.48,94.3 L659.3,96.34 L660.13,98.38 L660.96,100.41 L661.79,102.42 L662.62,104.42 L663.45,106.39 L664.28,108.33 L665.11,110.24 L665.93,112.12 L666.76,113.95 L667.59,115.73 L668.42,117.47 L669.25,119.15 L670.08,120.77 L670.91,122.33 L671.74,123.82 L672.56,125.24 L673.39,126.59 L674.22,127.86 L675.05,129.06 L675.88,130.18 L676.71,131.21 L677.54,132.15 L678.36,133.01 L679.19,133.78 L680.02,134.45" fill="none" stroke="rgb(138,78,214)" stroke-width="1.1" stroke-dasharray="3.3 4.6"/>
<path d="M580.58,153.38 L581.41,153.23 L582.24,152.97 L583.06,152.59 L583.89,152.09 L584.72,151.49 L585.55,150.77 L586.38,149.95 L587.21,149.01 L588.04,147.98 L588.86,146.84 L589.69,145.6 L590.52,144.27 L591.35,142.84 L592.18,141.33 L593.01,139.74 L593.84,138.07 L594.67,136.32 L595.49,134.5 L596.32,132.62 L597.15,130.67 L597.98,128.68 L598.81,126.63 L599.64,124.54 L600.47,122.42 L601.3,120.26 L602.12,118.07 L602.95,115.87 L603.78,113.65 L604.61,111.42 L605.44,109.2 L606.27,106.97 L607.1,104.76 L607.92,102.56 L608.75,100.39 L609.58,98.24 L610.41,96.13 L611.24,94.05 L612.07,92.02 L612.9,90.05 L613.73,88.13 L614.55,86.27 L615.38,84.48 L616.21,82.76 L617.04,81.11 L617.87,79.55 L618.7,78.07 L619.53,76.68 L620.36,75.38 L621.18,74.18 L622.01,73.08 L622.84,72.08 L623.67,71.19 L624.5,70.41 L625.33,69.73 L626.16,69.17 L626.99,68.72 L627.81,68.38 L628.64,68.16 L629.47,68.06 L630.3,68.07 L631.13,68.2 L631.96,68.44 L632.79,68.8 L633.61,69.28 L634.44,69.86 L635.27,70.56 L636.1,71.37 L636.93,72.29 L637.76,73.31 L638.59,74.43 L639.42,75.65 L640.24,76.97 L641.07,78.38 L641.9,79.87 L642.73,81.45 L643.56,83.11 L644.39,84.85 L645.22,86.66 L646.05,88.53 L646.87,90.46 L647.7,92.45 L648.53,94.49 L649.36,96.57 L650.19,98.69 L651.02,100.84 L651.85,103.03 L652.67,105.23 L653.5,107.44 L654.33,109.67 L655.16,111.9 L655.99,114.12 L656.82,116.34 L657.65,118.54 L658.48,120.72 L659.3,122.87 L660.13,124.99 L660.96,127.07 L661.79,129.11 L662.62,131.09 L663.45,133.02 L664.28,134.89 L665.11,136.69 L665.93,138.43 L666.76,140.08 L667.59,141.66 L668.42,143.15 L669.25,144.56 L670.08,145.87 L670.91,147.09 L671.74,148.2 L672.56,149.22 L673.39,150.13 L674.22,150.93 L675.05,151.63 L675.88,152.21 L676.71,152.68 L677.54,153.03 L678.36,153.27 L679.19,153.39 L680.02,153.4" fill="none" stroke="rgb(138,78,214)" stroke-width="1.1" stroke-dasharray="3.3 4.6"/>
<path d="M580.58,95.91 L581.41,95.84 L582.24,95.7 L583.06,95.52 L583.89,95.28 L584.72,95 L585.55,94.66 L586.38,94.27 L587.21,93.84 L588.04,93.35 L588.86,92.82 L589.69,92.25 L590.52,91.63 L591.35,90.97 L592.18,90.28 L593.01,89.54 L593.84,88.77 L594.67,87.97 L595.49,87.13 L596.32,86.27 L597.15,85.37 L597.98,84.46 L598.81,83.52 L599.64,82.56 L600.47,81.59 L601.3,80.6 L602.12,79.61 L602.95,78.6 L603.78,77.59 L604.61,76.57 L605.44,75.55 L606.27,74.54 L607.1,73.53 L607.92,72.53 L608.75,71.54 L609.58,70.57 L610.41,69.61 L611.24,68.67 L612.07,67.75 L612.9,66.85 L613.73,65.98 L614.55,65.14 L615.38,64.33 L616.21,63.55 L617.04,62.81 L617.87,62.1 L618.7,61.44 L619.53,60.81 L620.36,60.23 L621.18,59.69 L622.01,59.2 L622.84,58.76 L623.67,58.36 L624.5,58.01 L625.33,57.72 L626.16,57.47 L626.99,57.28 L627.81,57.14 L628.64,57.05 L629.47,57.01 L630.3,57.03 L631.13,57.1 L631.96,57.22 L632.79,57.4 L633.61,57.62 L634.44,57.9 L635.27,58.23 L636.1,58.61 L636.93,59.04 L637.76,59.52 L638.59,60.04 L639.42,60.6 L640.24,61.21 L641.07,61.87 L641.9,62.56 L642.73,63.29 L643.56,64.05 L644.39,64.85 L645.22,65.68 L646.05,66.54 L646.87,67.43 L647.7,68.34 L648.53,69.27 L649.36,70.23 L650.19,71.2 L651.02,72.18 L651.85,73.18 L652.67,74.19 L653.5,75.2 L654.33,76.21 L655.16,77.23 L655.99,78.24 L656.82,79.25 L657.65,80.25 L658.48,81.25 L659.3,82.22 L660.13,83.19 L660.96,84.13 L661.79,85.05 L662.62,85.96 L663.45,86.83 L664.28,87.68 L665.11,88.49 L665.93,89.27 L666.76,90.02 L667.59,90.73 L668.42,91.41 L669.25,92.04 L670.08,92.63 L670.91,93.17 L671.74,93.67 L672.56,94.12 L673.39,94.53 L674.22,94.88 L675.05,95.19 L675.88,95.44 L676.71,95.64 L677.54,95.79 L678.36,95.89 L679.19,95.94 L680.02,95.93" fill="none" stroke="rgb(98,188,172)" stroke-width="2.0" stroke-linecap="round" stroke-linejoin="round"/>
<path d="M580.58,134.75 L581.41,134.62 L582.24,134.4 L583.06,134.1 L583.89,133.72 L584.72,133.25 L585.55,132.7 L586.38,132.07 L587.21,131.36 L588.04,130.57 L588.86,129.71 L589.69,128.77 L590.52,127.77 L591.35,126.7 L592.18,125.56 L593.01,124.36 L593.84,123.11 L594.67,121.8 L595.49,120.43 L596.32,119.03 L597.15,117.57 L597.98,116.08 L598.81,114.55 L599.64,113 L600.47,111.41 L601.3,109.8 L602.12,108.17 L602.95,106.53 L603.78,104.88 L604.61,103.23 L605.44,101.57 L606.27,99.92 L607.1,98.28 L607.92,96.65 L608.75,95.04 L609.58,93.45 L610.41,91.88 L611.24,90.35 L612.07,88.85 L612.9,87.39 L613.73,85.97 L614.55,84.6 L615.38,83.28 L616.21,82.01 L617.04,80.8 L617.87,79.66 L618.7,78.57 L619.53,77.55 L620.36,76.61 L621.18,75.73 L622.01,74.93 L622.84,74.2 L623.67,73.56 L624.5,72.99 L625.33,72.51 L626.16,72.11 L626.99,71.79 L627.81,71.56 L628.64,71.42 L629.47,71.36 L630.3,71.39 L631.13,71.5 L631.96,71.7 L632.79,71.99 L633.61,72.36 L634.44,72.81 L635.27,73.35 L636.1,73.97 L636.93,74.66 L637.76,75.44 L638.59,76.29 L639.42,77.21 L640.24,78.21 L641.07,79.27 L641.9,80.39 L642.73,81.58 L643.56,82.83 L644.39,84.13 L645.22,85.48 L646.05,86.89 L646.87,88.33 L647.7,89.82 L648.53,91.34 L649.36,92.89 L650.19,94.47 L651.02,96.08 L651.85,97.7 L652.67,99.34 L653.5,100.99 L654.33,102.65 L655.16,104.3 L655.99,105.95 L656.82,107.6 L657.65,109.23 L658.48,110.85 L659.3,112.44 L660.13,114.01 L660.96,115.55 L661.79,117.05 L662.62,118.52 L663.45,119.94 L664.28,121.32 L665.11,122.65 L665.93,123.93 L666.76,125.15 L667.59,126.31 L668.42,127.4 L669.25,128.43 L670.08,129.39 L670.91,130.28 L671.74,131.09 L672.56,131.83 L673.39,132.49 L674.22,133.07 L675.05,133.56 L675.88,133.98 L676.71,134.31 L677.54,134.55 L678.36,134.71 L679.19,134.78 L680.02,134.77" fill="none" stroke="rgb(155,72,215)" stroke-width="2.0" stroke-linecap="round" stroke-linejoin="round"/>
<path d="M580.58,47.5 L680.02,47.5" fill="none" stroke="rgb(220,78,84)" stroke-width="2.0" stroke-linecap="round" stroke-linejoin="round"/>
</g>
<rect x="576.4" y="31.75" width="107.3" height="126.55" fill="none" stroke="#383838" stroke-width="1.4"/>
<line x1="569.6" y1="138.9" x2="576.4" y2="138.9" stroke="#2a2a2a" stroke-width="1.25"/>
<text x="561.2" y="138.9" font-size="10.6" text-anchor="middle" transform="rotate(-90 561.2 138.9)">−5</text>
<line x1="569.6" y1="98.6" x2="576.4" y2="98.6" stroke="#2a2a2a" stroke-width="1.25"/>
<text x="561.2" y="98.6" font-size="10.6" text-anchor="middle" transform="rotate(-90 561.2 98.6)">0</text>
<line x1="569.6" y1="58.3" x2="576.4" y2="58.3" stroke="#2a2a2a" stroke-width="1.25"/>
<text x="561.2" y="58.3" font-size="10.6" text-anchor="middle" transform="rotate(-90 561.2 58.3)">5</text>
<line x1="580.5" y1="158.3" x2="580.5" y2="165.2" stroke="#262626" stroke-width="1.15"/>
<text x="580.3" y="182.5" font-size="10.6" text-anchor="middle">0</text>
<line x1="607.5" y1="158.3" x2="607.5" y2="165.2" stroke="#262626" stroke-width="1.15"/>
<text x="607.62" y="182.5" font-size="10.6" text-anchor="middle">100</text>
<line x1="634.5" y1="158.3" x2="634.5" y2="165.2" stroke="#262626" stroke-width="1.15"/>
<line x1="662.5" y1="158.3" x2="662.5" y2="165.2" stroke="#262626" stroke-width="1.15"/>
<text x="662.26" y="182.5" font-size="10.6" text-anchor="middle">300</text>
<text x="630.05" y="208.5" font-size="10.6" text-anchor="middle">day</text>
<text x="535.3" y="95.03" font-size="10.6" text-anchor="middle" transform="rotate(-90 535.3 95.03)">response</text>
<text x="630.05" y="10.9" font-size="13.2" font-weight="bold" text-anchor="middle" class="t">CS4</text>
<defs><clipPath id="c01"><rect x="50.0" y="264.75" width="107.6" height="126.55000000000001"/></clipPath></defs>
<g clip-path="url(#c01)">
<path d="M53.99,328.32 L153.61,328.32" fill="none" stroke="rgb(165,55,72)" stroke-width="2.0" stroke-linecap="round" stroke-linejoin="round"/>
</g>
<rect x="50.0" y="264.75" width="107.6" height="126.55" fill="none" stroke="#383838" stroke-width="1.4"/>
<line x1="43.2" y1="386.7" x2="50.0" y2="386.7" stroke="#2a2a2a" stroke-width="1.25"/>
<text x="34.8" y="386.7" font-size="10.6" text-anchor="middle" transform="rotate(-90 34.8 386.7)">0.6</text>
<line x1="43.2" y1="357.51" x2="50.0" y2="357.51" stroke="#2a2a2a" stroke-width="1.25"/>
<text x="34.8" y="357.51" font-size="10.6" text-anchor="middle" transform="rotate(-90 34.8 357.51)">0.8</text>
<line x1="43.2" y1="328.32" x2="50.0" y2="328.32" stroke="#2a2a2a" stroke-width="1.25"/>
<text x="34.8" y="328.32" font-size="10.6" text-anchor="middle" transform="rotate(-90 34.8 328.32)">1.0</text>
<line x1="43.2" y1="299.14" x2="50.0" y2="299.14" stroke="#2a2a2a" stroke-width="1.25"/>
<text x="34.8" y="299.14" font-size="10.6" text-anchor="middle" transform="rotate(-90 34.8 299.14)">1.2</text>
<line x1="43.2" y1="269.95" x2="50.0" y2="269.95" stroke="#2a2a2a" stroke-width="1.25"/>
<text x="34.8" y="269.95" font-size="10.6" text-anchor="middle" transform="rotate(-90 34.8 269.95)">1.4</text>
<line x1="53.5" y1="391.3" x2="53.5" y2="398.2" stroke="#262626" stroke-width="1.15"/>
<text x="53.71" y="415.5" font-size="10.6" text-anchor="middle">0</text>
<line x1="81.5" y1="391.3" x2="81.5" y2="398.2" stroke="#262626" stroke-width="1.15"/>
<text x="81.08" y="415.5" font-size="10.6" text-anchor="middle">100</text>
<line x1="108.5" y1="391.3" x2="108.5" y2="398.2" stroke="#262626" stroke-width="1.15"/>
<line x1="135.5" y1="391.3" x2="135.5" y2="398.2" stroke="#262626" stroke-width="1.15"/>
<text x="135.82" y="415.5" font-size="10.6" text-anchor="middle">300</text>
<text x="103.8" y="441.5" font-size="10.6" text-anchor="middle">day</text>
<text x="8.9" y="328.02" font-size="10.6" text-anchor="middle" transform="rotate(-90 8.9 328.02)">effect of weather</text>
<text x="103.8" y="243.9" font-size="13.2" font-weight="bold" text-anchor="middle" class="t">W1</text>
<defs><clipPath id="c11"><rect x="225.4" y="264.75" width="107.6" height="126.55000000000001"/></clipPath></defs>
<g clip-path="url(#c11)">
<path d="M229.39,270.11 L329.01,270.11" fill="none" stroke="rgb(196,72,96)" stroke-width="1.1" stroke-dasharray="3.3 4.6"/>
<path d="M229.39,276.29 L329.01,276.29" fill="none" stroke="rgb(196,72,96)" stroke-width="1.1" stroke-dasharray="3.3 4.6"/>
<path d="M229.39,333.07 L329.01,333.07" fill="none" stroke="rgb(105,172,165)" stroke-width="1.1" stroke-dasharray="3.3 4.6"/>
<path d="M229.39,337.06 L329.01,337.06" fill="none" stroke="rgb(105,172,165)" stroke-width="1.1" stroke-dasharray="3.3 4.6"/>
<path d="M229.39,366.54 L329.01,366.54" fill="none" stroke="rgb(138,78,214)" stroke-width="1.1" stroke-dasharray="3.3 4.6"/>
<path d="M229.39,386.24 L329.01,386.24" fill="none" stroke="rgb(138,78,214)" stroke-width="1.1" stroke-dasharray="3.3 4.6"/>
<path d="M229.39,342.85 L329.01,342.85" fill="none" stroke="rgb(98,188,172)" stroke-width="2.0" stroke-linecap="round" stroke-linejoin="round"/>
<path d="M229.39,385.85 L329.01,385.85" fill="none" stroke="rgb(155,72,215)" stroke-width="2.0" stroke-linecap="round" stroke-linejoin="round"/>
<path d="M229.39,296.89 L329.01,296.89" fill="none" stroke="rgb(220,78,84)" stroke-width="2.0" stroke-linecap="round" stroke-linejoin="round"/>
</g>
<rect x="225.4" y="264.75" width="107.6" height="126.55" fill="none" stroke="#383838" stroke-width="1.4"/>
<line x1="218.6" y1="378" x2="225.4" y2="378" stroke="#2a2a2a" stroke-width="1.25"/>
<text x="210.2" y="378" font-size="10.6" text-anchor="middle" transform="rotate(-90 210.2 378)">0</text>
<line x1="218.6" y1="352.25" x2="225.4" y2="352.25" stroke="#2a2a2a" stroke-width="1.25"/>
<text x="210.2" y="352.25" font-size="10.6" text-anchor="middle" transform="rotate(-90 210.2 352.25)">2</text>
<line x1="218.6" y1="326.5" x2="225.4" y2="326.5" stroke="#2a2a2a" stroke-width="1.25"/>
<text x="210.2" y="326.5" font-size="10.6" text-anchor="middle" transform="rotate(-90 210.2 326.5)">4</text>
<line x1="218.6" y1="300.75" x2="225.4" y2="300.75" stroke="#2a2a2a" stroke-width="1.25"/>
<text x="210.2" y="300.75" font-size="10.6" text-anchor="middle" transform="rotate(-90 210.2 300.75)">6</text>
<line x1="218.6" y1="275" x2="225.4" y2="275" stroke="#2a2a2a" stroke-width="1.25"/>
<text x="210.2" y="275" font-size="10.6" text-anchor="middle" transform="rotate(-90 210.2 275)">8</text>
<line x1="229.5" y1="391.3" x2="229.5" y2="398.2" stroke="#262626" stroke-width="1.15"/>
<text x="229.11" y="415.5" font-size="10.6" text-anchor="middle">0</text>
<line x1="256.5" y1="391.3" x2="256.5" y2="398.2" stroke="#262626" stroke-width="1.15"/>
<text x="256.48" y="415.5" font-size="10.6" text-anchor="middle">100</text>
<line x1="283.5" y1="391.3" x2="283.5" y2="398.2" stroke="#262626" stroke-width="1.15"/>
<line x1="311.5" y1="391.3" x2="311.5" y2="398.2" stroke="#262626" stroke-width="1.15"/>
<text x="311.22" y="415.5" font-size="10.6" text-anchor="middle">300</text>
<text x="279.2" y="441.5" font-size="10.6" text-anchor="middle">day</text>
<text x="184.3" y="328.02" font-size="10.6" text-anchor="middle" transform="rotate(-90 184.3 328.02)">effect of weather</text>
<text x="279.2" y="243.9" font-size="13.2" font-weight="bold" text-anchor="middle" class="t">W2</text>
<defs><clipPath id="c21"><rect x="400.8" y="264.75" width="107.69999999999999" height="126.55000000000001"/></clipPath></defs>
<g clip-path="url(#c21)">
<path d="M404.79,275.31 L504.51,275.31" fill="none" stroke="rgb(196,72,96)" stroke-width="1.1" stroke-dasharray="3.3 4.6"/>
<path d="M404.79,341.71 L405.62,341.62 L406.45,341.46 L407.28,341.24 L408.11,340.96 L408.94,340.62 L409.78,340.22 L410.61,339.76 L411.44,339.24 L412.27,338.67 L413.1,338.04 L413.93,337.36 L414.76,336.63 L415.59,335.85 L416.42,335.02 L417.25,334.15 L418.09,333.24 L418.92,332.28 L419.75,331.29 L420.58,330.26 L421.41,329.21 L422.24,328.12 L423.07,327.01 L423.9,325.87 L424.73,324.72 L425.56,323.55 L426.4,322.36 L427.23,321.17 L428.06,319.97 L428.89,318.76 L429.72,317.55 L430.55,316.35 L431.38,315.16 L432.21,313.97 L433.04,312.79 L433.87,311.64 L434.71,310.5 L435.54,309.38 L436.37,308.29 L437.2,307.23 L438.03,306.19 L438.86,305.2 L439.69,304.23 L440.52,303.31 L441.35,302.43 L442.18,301.6 L443.02,300.81 L443.85,300.07 L444.68,299.37 L445.51,298.74 L446.34,298.15 L447.17,297.63 L448,297.16 L448.83,296.74 L449.66,296.39 L450.49,296.1 L451.33,295.87 L452.16,295.7 L452.99,295.6 L453.82,295.55 L454.65,295.57 L455.48,295.66 L456.31,295.8 L457.14,296.01 L457.97,296.28 L458.81,296.61 L459.64,297 L460.47,297.45 L461.3,297.96 L462.13,298.53 L462.96,299.14 L463.79,299.82 L464.62,300.54 L465.45,301.31 L466.28,302.13 L467.12,303 L467.95,303.91 L468.78,304.85 L469.61,305.84 L470.44,306.86 L471.27,307.91 L472.1,308.99 L472.93,310.1 L473.76,311.23 L474.59,312.39 L475.43,313.55 L476.26,314.74 L477.09,315.93 L477.92,317.13 L478.75,318.34 L479.58,319.54 L480.41,320.74 L481.24,321.94 L482.07,323.13 L482.9,324.31 L483.74,325.47 L484.57,326.61 L485.4,327.73 L486.23,328.83 L487.06,329.9 L487.89,330.93 L488.72,331.94 L489.55,332.9 L490.38,333.83 L491.21,334.72 L492.05,335.56 L492.88,336.36 L493.71,337.11 L494.54,337.81 L495.37,338.46 L496.2,339.05 L497.03,339.59 L497.86,340.07 L498.69,340.49 L499.52,340.85 L500.36,341.15 L501.19,341.39 L502.02,341.57 L502.85,341.69 L503.68,341.74 L504.51,341.73" fill="none" stroke="rgb(105,172,165)" stroke-width="1.1" stroke-dasharray="3.3 4.6"/>
<path d="M404.79,386.43 L405.62,386.27 L406.45,386.02 L407.28,385.65 L408.11,385.19 L408.94,384.63 L409.78,383.97 L410.61,383.21 L411.44,382.35 L412.27,381.41 L413.1,380.37 L413.93,379.24 L414.76,378.04 L415.59,376.75 L416.42,375.38 L417.25,373.94 L418.09,372.43 L418.92,370.85 L419.75,369.21 L420.58,367.52 L421.41,365.77 L422.24,363.97 L423.07,362.14 L423.9,360.26 L424.73,358.35 L425.56,356.42 L426.4,354.46 L427.23,352.49 L428.06,350.5 L428.89,348.51 L429.72,346.52 L430.55,344.53 L431.38,342.56 L432.21,340.6 L433.04,338.66 L433.87,336.75 L434.71,334.86 L435.54,333.02 L436.37,331.22 L437.2,329.46 L438.03,327.75 L438.86,326.11 L439.69,324.52 L440.52,322.99 L441.35,321.54 L442.18,320.16 L443.02,318.85 L443.85,317.63 L444.68,316.49 L445.51,315.43 L446.34,314.47 L447.17,313.6 L448,312.82 L448.83,312.14 L449.66,311.56 L450.49,311.08 L451.33,310.7 L452.16,310.42 L452.99,310.25 L453.82,310.18 L454.65,310.21 L455.48,310.35 L456.31,310.59 L457.14,310.93 L457.97,311.38 L458.81,311.93 L459.64,312.57 L460.47,313.31 L461.3,314.15 L462.13,315.09 L462.96,316.11 L463.79,317.22 L464.62,318.41 L465.45,319.69 L466.28,321.05 L467.12,322.47 L467.95,323.97 L468.78,325.54 L469.61,327.17 L470.44,328.85 L471.27,330.59 L472.1,332.38 L472.93,334.21 L473.76,336.08 L474.59,337.98 L475.43,339.91 L476.26,341.87 L477.09,343.84 L477.92,345.82 L478.75,347.81 L479.58,349.8 L480.41,351.79 L481.24,353.77 L482.07,355.73 L482.9,357.68 L483.74,359.59 L484.57,361.48 L485.4,363.33 L486.23,365.14 L487.06,366.91 L487.89,368.62 L488.72,370.28 L489.55,371.88 L490.38,373.41 L491.21,374.88 L492.05,376.27 L492.88,377.59 L493.71,378.83 L494.54,379.98 L495.37,381.05 L496.2,382.03 L497.03,382.92 L497.86,383.71 L498.69,384.41 L499.52,385.01 L500.36,385.5 L501.19,385.9 L502.02,386.19 L502.85,386.39 L503.68,386.47 L504.51,386.46" fill="none" stroke="rgb(138,78,214)" stroke-width="1.1" stroke-dasharray="3.3 4.6"/>
<path d="M404.79,327.57 L405.62,327.48 L406.45,327.32 L407.28,327.1 L408.11,326.82 L408.94,326.47 L409.78,326.06 L410.61,325.6 L411.44,325.08 L412.27,324.49 L413.1,323.86 L413.93,323.17 L414.76,322.43 L415.59,321.64 L416.42,320.8 L417.25,319.92 L418.09,318.99 L418.92,318.02 L419.75,317.02 L420.58,315.98 L421.41,314.91 L422.24,313.81 L423.07,312.68 L423.9,311.53 L424.73,310.37 L425.56,309.18 L426.4,307.98 L427.23,306.77 L428.06,305.55 L428.89,304.33 L429.72,303.11 L430.55,301.89 L431.38,300.68 L432.21,299.48 L433.04,298.29 L433.87,297.12 L434.71,295.97 L435.54,294.84 L436.37,293.73 L437.2,292.65 L438.03,291.61 L438.86,290.6 L439.69,289.63 L440.52,288.69 L441.35,287.8 L442.18,286.95 L443.02,286.15 L443.85,285.4 L444.68,284.7 L445.51,284.06 L446.34,283.47 L447.17,282.93 L448,282.46 L448.83,282.04 L449.66,281.68 L450.49,281.39 L451.33,281.15 L452.16,280.98 L452.99,280.88 L453.82,280.83 L454.65,280.86 L455.48,280.94 L456.31,281.09 L457.14,281.3 L457.97,281.57 L458.81,281.91 L459.64,282.3 L460.47,282.76 L461.3,283.27 L462.13,283.84 L462.96,284.47 L463.79,285.15 L464.62,285.88 L465.45,286.67 L466.28,287.5 L467.12,288.37 L467.95,289.29 L468.78,290.25 L469.61,291.25 L470.44,292.28 L471.27,293.35 L472.1,294.44 L472.93,295.57 L473.76,296.71 L474.59,297.88 L475.43,299.06 L476.26,300.26 L477.09,301.47 L477.92,302.68 L478.75,303.9 L479.58,305.12 L480.41,306.34 L481.24,307.56 L482.07,308.76 L482.9,309.95 L483.74,311.13 L484.57,312.28 L485.4,313.42 L486.23,314.53 L487.06,315.61 L487.89,316.66 L488.72,317.68 L489.55,318.66 L490.38,319.6 L491.21,320.49 L492.05,321.35 L492.88,322.16 L493.71,322.92 L494.54,323.62 L495.37,324.28 L496.2,324.88 L497.03,325.42 L497.86,325.91 L498.69,326.33 L499.52,326.7 L500.36,327.01 L501.19,327.25 L502.02,327.43 L502.85,327.55 L503.68,327.6 L504.51,327.59" fill="none" stroke="rgb(98,188,172)" stroke-width="2.0" stroke-linecap="round" stroke-linejoin="round"/>
<path d="M404.79,374.23 L405.62,374.07 L406.45,373.82 L407.28,373.45 L408.11,372.99 L408.94,372.43 L409.78,371.77 L410.61,371.01 L411.44,370.16 L412.27,369.21 L413.1,368.18 L413.93,367.05 L414.76,365.84 L415.59,364.56 L416.42,363.19 L417.25,361.75 L418.09,360.24 L418.92,358.67 L419.75,357.03 L420.58,355.34 L421.41,353.59 L422.24,351.8 L423.07,349.97 L423.9,348.09 L424.73,346.19 L425.56,344.26 L426.4,342.3 L427.23,340.33 L428.06,338.35 L428.89,336.36 L429.72,334.37 L430.55,332.39 L431.38,330.41 L432.21,328.46 L433.04,326.52 L433.87,324.61 L434.71,322.73 L435.54,320.89 L436.37,319.09 L437.2,317.33 L438.03,315.63 L438.86,313.98 L439.69,312.39 L440.52,310.87 L441.35,309.42 L442.18,308.04 L443.02,306.74 L443.85,305.52 L444.68,304.38 L445.51,303.32 L446.34,302.36 L447.17,301.49 L448,300.71 L448.83,300.03 L449.66,299.45 L450.49,298.97 L451.33,298.59 L452.16,298.32 L452.99,298.14 L453.82,298.07 L454.65,298.11 L455.48,298.24 L456.31,298.48 L457.14,298.83 L457.97,299.27 L458.81,299.82 L459.64,300.46 L460.47,301.21 L461.3,302.04 L462.13,302.97 L462.96,304 L463.79,305.11 L464.62,306.3 L465.45,307.57 L466.28,308.93 L467.12,310.35 L467.95,311.85 L468.78,313.42 L469.61,315.04 L470.44,316.73 L471.27,318.46 L472.1,320.25 L472.93,322.08 L473.76,323.94 L474.59,325.84 L475.43,327.77 L476.26,329.72 L477.09,331.69 L477.92,333.67 L478.75,335.66 L479.58,337.65 L480.41,339.63 L481.24,341.61 L482.07,343.57 L482.9,345.51 L483.74,347.43 L484.57,349.31 L485.4,351.16 L486.23,352.97 L487.06,354.73 L487.89,356.44 L488.72,358.1 L489.55,359.7 L490.38,361.23 L491.21,362.69 L492.05,364.09 L492.88,365.4 L493.71,366.64 L494.54,367.79 L495.37,368.86 L496.2,369.84 L497.03,370.72 L497.86,371.51 L498.69,372.21 L499.52,372.81 L500.36,373.3 L501.19,373.7 L502.02,373.99 L502.85,374.18 L503.68,374.27 L504.51,374.26" fill="none" stroke="rgb(155,72,215)" stroke-width="2.0" stroke-linecap="round" stroke-linejoin="round"/>
<path d="M404.79,374.23 L405.62,374.07 L406.45,373.82 L407.28,373.45 L408.11,372.99 L408.94,372.43 L409.78,371.77 L410.61,371.01 L411.44,370.16 L412.27,369.21 L413.1,368.18 L413.93,367.05 L414.76,365.84 L415.59,364.56 L416.42,363.19 L417.25,361.75 L418.09,360.24 L418.92,358.67 L419.75,357.03 L420.58,355.34 L421.41,353.59 L422.24,351.8 L423.07,349.97 L423.9,348.09 L424.73,346.19 L425.56,344.26 L426.4,342.3 L427.23,340.33 L428.06,338.35 L428.89,336.36 L429.72,334.37 L430.55,332.39 L431.38,330.41 L432.21,328.46 L433.04,326.52 L433.87,324.61 L434.71,322.73 L435.54,320.89 L436.37,319.09 L437.2,317.33 L438.03,315.63 L438.86,313.98 L439.69,312.39 L440.52,310.87 L441.35,309.42 L442.18,308.04 L443.02,306.74 L443.85,305.52 L444.68,304.38 L445.51,303.32 L446.34,302.36 L447.17,301.49 L448,300.71 L448.83,300.03 L449.66,299.45 L450.49,298.97 L451.33,298.59 L452.16,298.32 L452.99,298.14 L453.82,298.07 L454.65,298.11 L455.48,298.24 L456.31,298.48 L457.14,298.83 L457.97,299.27 L458.81,299.82 L459.64,300.46 L460.47,301.21 L461.3,302.04 L462.13,302.97 L462.96,304 L463.79,305.11 L464.62,306.3 L465.45,307.57 L466.28,308.93 L467.12,310.35 L467.95,311.85 L468.78,313.42 L469.61,315.04 L470.44,316.73 L471.27,318.46 L472.1,320.25 L472.93,322.08 L473.76,323.94 L474.59,325.84 L475.43,327.77 L476.26,329.72 L477.09,331.69 L477.92,333.67 L478.75,335.66 L479.58,337.65 L480.41,339.63 L481.24,341.61 L482.07,343.57 L482.9,345.51 L483.74,347.43 L484.57,349.31 L485.4,351.16 L486.23,352.97 L487.06,354.73 L487.89,356.44 L488.72,358.1 L489.55,359.7 L490.38,361.23 L491.21,362.69 L492.05,364.09 L492.88,365.4 L493.71,366.64 L494.54,367.79 L495.37,368.86 L496.2,369.84 L497.03,370.72 L497.86,371.51 L498.69,372.21 L499.52,372.81 L500.36,373.3 L501.19,373.7 L502.02,373.99 L502.85,374.18 L503.68,374.27 L504.51,374.26" fill="none" stroke="rgb(138,78,214)" stroke-width="1.1" stroke-dasharray="3.3 4.6"/>
<path d="M404.79,269.8 L504.51,269.8" fill="none" stroke="rgb(205,68,78)" stroke-width="2.0" stroke-linecap="round" stroke-linejoin="round"/>
<path d="M404.79,269.8 L504.51,269.8" fill="none" stroke="rgb(172,45,62)" stroke-width="2.0" stroke-dasharray="3.3 4.6"/>
</g>
<rect x="400.8" y="264.75" width="107.7" height="126.55" fill="none" stroke="#383838" stroke-width="1.4"/>
<line x1="394" y1="388.9" x2="400.8" y2="388.9" stroke="#2a2a2a" stroke-width="1.25"/>
<text x="385.6" y="388.9" font-size="10.6" text-anchor="middle" transform="rotate(-90 385.6 388.9)">−6</text>
<line x1="394" y1="369.53" x2="400.8" y2="369.53" stroke="#2a2a2a" stroke-width="1.25"/>
<line x1="394" y1="350.17" x2="400.8" y2="350.17" stroke="#2a2a2a" stroke-width="1.25"/>
<text x="385.6" y="350.17" font-size="10.6" text-anchor="middle" transform="rotate(-90 385.6 350.17)">−2</text>
<line x1="394" y1="330.8" x2="400.8" y2="330.8" stroke="#2a2a2a" stroke-width="1.25"/>
<text x="385.6" y="330.8" font-size="10.6" text-anchor="middle" transform="rotate(-90 385.6 330.8)">0</text>
<line x1="394" y1="311.43" x2="400.8" y2="311.43" stroke="#2a2a2a" stroke-width="1.25"/>
<text x="385.6" y="311.43" font-size="10.6" text-anchor="middle" transform="rotate(-90 385.6 311.43)">2</text>
<line x1="394" y1="292.07" x2="400.8" y2="292.07" stroke="#2a2a2a" stroke-width="1.25"/>
<text x="385.6" y="292.07" font-size="10.6" text-anchor="middle" transform="rotate(-90 385.6 292.07)">4</text>
<line x1="394" y1="272.7" x2="400.8" y2="272.7" stroke="#2a2a2a" stroke-width="1.25"/>
<text x="385.6" y="272.7" font-size="10.6" text-anchor="middle" transform="rotate(-90 385.6 272.7)">6</text>
<line x1="404.5" y1="391.3" x2="404.5" y2="398.2" stroke="#262626" stroke-width="1.15"/>
<text x="404.51" y="415.5" font-size="10.6" text-anchor="middle">0</text>
<line x1="431.5" y1="391.3" x2="431.5" y2="398.2" stroke="#262626" stroke-width="1.15"/>
<text x="431.91" y="415.5" font-size="10.6" text-anchor="middle">100</text>
<line x1="459.5" y1="391.3" x2="459.5" y2="398.2" stroke="#262626" stroke-width="1.15"/>
<line x1="486.5" y1="391.3" x2="486.5" y2="398.2" stroke="#262626" stroke-width="1.15"/>
<text x="486.7" y="415.5" font-size="10.6" text-anchor="middle">300</text>
<text x="454.65" y="441.5" font-size="10.6" text-anchor="middle">day</text>
<text x="359.7" y="328.02" font-size="10.6" text-anchor="middle" transform="rotate(-90 359.7 328.02)">effect of weather</text>
<text x="454.65" y="243.9" font-size="13.2" font-weight="bold" text-anchor="middle" class="t">W3</text>
<defs><clipPath id="c31"><rect x="576.4" y="264.75" width="107.30000000000007" height="126.55000000000001"/></clipPath></defs>
<g clip-path="url(#c31)">
<path d="M580.58,279.55 C581.66,278.56 584.85,275.18 587.10,273.60 C589.35,272.02 591.63,270.42 594.10,270.10 C596.57,269.78 599.57,270.65 601.90,271.70 C604.23,272.75 606.30,274.68 608.10,276.40 C609.90,278.12 610.98,280.03 612.70,282.00 C614.42,283.97 616.78,286.08 618.40,288.20 C620.02,290.32 621.00,292.55 622.40,294.70 C623.80,296.85 625.28,298.97 626.80,301.10 C628.32,303.23 629.60,305.53 631.50,307.50 C633.40,309.47 635.93,311.58 638.20,312.90 C640.47,314.22 642.63,315.32 645.10,315.40 C647.57,315.48 650.65,314.68 653.00,313.40 C655.35,312.12 657.40,309.58 659.20,307.70 C661.00,305.82 662.28,304.10 663.80,302.10 C665.32,300.10 666.73,297.85 668.30,295.70 C669.87,293.55 671.25,291.90 673.20,289.20 C675.15,286.50 678.89,281.11 680.02,279.50" fill="none" stroke="rgb(196,72,96)" stroke-width="1.1" stroke-dasharray="3.3 4.6"/>
<path d="M580.58,278.59 C582.05,278.96 586.70,280.02 589.40,280.80 C592.10,281.58 594.25,282.43 596.80,283.30 C599.35,284.17 602.17,285.33 604.70,286.00 C607.23,286.67 609.45,287.00 612.00,287.30 C614.55,287.60 617.37,287.82 620.00,287.80 C622.63,287.78 625.30,287.63 627.80,287.20 C630.30,286.77 632.52,285.93 635.00,285.20 C637.48,284.47 640.12,283.62 642.70,282.80 C645.28,281.98 647.88,281.05 650.50,280.30 C653.12,279.55 655.77,278.78 658.40,278.30 C661.03,277.82 662.70,277.55 666.30,277.40 C669.90,277.25 677.74,277.40 680.02,277.40" fill="none" stroke="rgb(196,72,96)" stroke-width="1.1" stroke-dasharray="3.3 4.6"/>
<path d="M580.58,333.40 C581.23,334.04 583.26,336.53 584.50,337.20 C585.74,337.87 586.75,337.87 588.00,337.40 C589.25,336.93 590.67,335.70 592.00,334.40 C593.33,333.10 594.67,331.30 596.00,329.60 C597.33,327.90 598.70,326.33 600.00,324.20 C601.30,322.07 602.52,319.55 603.80,316.80 C605.08,314.05 606.48,310.45 607.70,307.70 C608.92,304.95 610.08,302.65 611.10,300.30 C612.12,297.95 612.80,295.73 613.80,293.60 C614.80,291.47 615.77,289.87 617.10,287.50 C618.43,285.13 619.88,281.30 621.80,279.40 C623.72,277.50 626.47,275.98 628.60,276.10 C630.73,276.22 632.82,278.20 634.60,280.10 C636.38,282.00 638.02,285.25 639.30,287.50 C640.58,289.75 641.10,291.27 642.30,293.60 C643.50,295.93 645.22,298.43 646.50,301.50 C647.78,304.57 648.77,308.28 650.00,312.00 C651.23,315.72 652.83,320.60 653.90,323.80 C654.97,327.00 655.48,328.73 656.40,331.20 C657.32,333.67 658.42,336.12 659.40,338.60 C660.38,341.08 661.23,343.72 662.30,346.10 C663.37,348.48 664.63,350.60 665.80,352.90 C666.97,355.20 667.85,357.88 669.30,359.90 C670.75,361.92 672.71,363.76 674.50,365.00 C676.29,366.24 679.10,366.96 680.02,367.35" fill="none" stroke="rgb(105,172,165)" stroke-width="1.1" stroke-dasharray="3.3 4.6"/>
<path d="M580.58,365.79 C581.51,364.73 584.53,361.57 586.20,359.40 C587.87,357.23 589.27,355.28 590.60,352.80 C591.93,350.32 592.72,347.30 594.20,344.50 C595.68,341.70 597.70,338.42 599.50,336.00 C601.30,333.58 603.30,331.80 605.00,330.00 C606.70,328.20 608.23,327.23 609.70,325.20 C611.17,323.17 612.45,320.27 613.80,317.80 C615.15,315.33 616.57,312.75 617.80,310.40 C619.03,308.05 619.40,307.07 621.20,303.70 C623.00,300.33 626.47,293.57 628.60,290.20 C630.73,286.83 632.22,285.27 634.00,283.50 C635.78,281.73 637.20,280.05 639.30,279.60 C641.40,279.15 644.25,279.68 646.60,280.80 C648.95,281.92 651.60,284.32 653.40,286.30 C655.20,288.28 656.07,290.57 657.40,292.70 C658.73,294.83 660.08,296.88 661.40,299.10 C662.72,301.32 664.07,303.62 665.30,306.00 C666.53,308.38 667.65,311.02 668.80,313.40 C669.95,315.78 670.97,317.98 672.20,320.30 C673.43,322.62 674.90,325.06 676.20,327.30 C677.50,329.54 679.39,332.67 680.02,333.74" fill="none" stroke="rgb(105,172,165)" stroke-width="1.1" stroke-dasharray="3.3 4.6"/>
<path d="M580.58,375.23 C581.63,374.16 585.11,370.96 586.90,368.80 C588.69,366.64 589.83,364.48 591.30,362.30 C592.77,360.12 594.37,357.88 595.70,355.70 C597.03,353.52 598.08,351.38 599.30,349.20 C600.52,347.02 601.90,344.67 603.00,342.60 C604.10,340.53 604.40,338.98 605.90,336.80 C607.40,334.62 610.32,331.10 612.00,329.50 C613.68,327.90 614.43,327.62 616.00,327.20 C617.57,326.78 619.27,326.58 621.40,327.00 C623.53,327.42 626.58,328.33 628.80,329.70 C631.02,331.07 632.88,333.30 634.70,335.20 C636.52,337.10 638.20,339.05 639.70,341.10 C641.20,343.15 642.23,345.20 643.70,347.50 C645.17,349.80 647.12,352.58 648.50,354.90 C649.88,357.22 650.60,359.25 652.00,361.40 C653.40,363.55 655.27,365.72 656.90,367.80 C658.53,369.88 659.95,372.28 661.80,373.90 C663.65,375.52 665.97,376.98 668.00,377.50 C670.03,378.02 672.00,377.28 674.00,377.00 C676.00,376.72 679.02,376.03 680.02,375.84" fill="none" stroke="rgb(138,78,214)" stroke-width="1.1" stroke-dasharray="3.3 4.6"/>
<path d="M580.58,377.87 C582.00,376.86 586.83,373.66 589.10,371.80 C591.37,369.94 592.62,368.53 594.20,366.70 C595.78,364.87 597.25,363.00 598.60,360.80 C599.95,358.60 601.07,356.13 602.30,353.50 C603.53,350.87 604.78,347.78 606.00,345.00 C607.22,342.22 608.40,339.27 609.60,336.80 C610.80,334.33 611.47,333.08 613.20,330.20 C614.93,327.32 617.70,322.37 620.00,319.50 C622.30,316.63 624.78,314.50 627.00,313.00 C629.22,311.50 631.30,310.42 633.30,310.50 C635.30,310.58 637.12,311.87 639.00,313.50 C640.88,315.13 642.93,318.00 644.60,320.30 C646.27,322.60 647.68,324.98 649.00,327.30 C650.32,329.62 651.35,331.90 652.50,334.20 C653.65,336.50 654.72,338.72 655.90,341.10 C657.08,343.48 658.37,346.12 659.60,348.50 C660.83,350.88 662.02,353.10 663.30,355.40 C664.58,357.70 665.90,360.07 667.30,362.30 C668.70,364.53 669.58,364.97 671.70,368.80 C673.82,372.63 678.64,382.52 680.02,385.26" fill="none" stroke="rgb(138,78,214)" stroke-width="1.1" stroke-dasharray="3.3 4.6"/>
<path d="M580.58,341.1 L581.41,341.01 L582.24,340.86 L583.06,340.64 L583.89,340.37 L584.72,340.03 L585.55,339.64 L586.38,339.19 L587.21,338.68 L588.04,338.12 L588.86,337.5 L589.69,336.83 L590.52,336.11 L591.35,335.35 L592.18,334.53 L593.01,333.68 L593.84,332.78 L594.67,331.84 L595.49,330.87 L596.32,329.86 L597.15,328.82 L597.98,327.76 L598.81,326.66 L599.64,325.55 L600.47,324.41 L601.3,323.26 L602.12,322.1 L602.95,320.93 L603.78,319.75 L604.61,318.56 L605.44,317.38 L606.27,316.2 L607.1,315.02 L607.92,313.86 L608.75,312.71 L609.58,311.57 L610.41,310.45 L611.24,309.35 L612.07,308.28 L612.9,307.24 L613.73,306.22 L614.55,305.24 L615.38,304.3 L616.21,303.39 L617.04,302.53 L617.87,301.71 L618.7,300.93 L619.53,300.2 L620.36,299.53 L621.18,298.9 L622.01,298.33 L622.84,297.81 L623.67,297.35 L624.5,296.94 L625.33,296.6 L626.16,296.31 L626.99,296.08 L627.81,295.92 L628.64,295.82 L629.47,295.77 L630.3,295.79 L631.13,295.88 L631.96,296.02 L632.79,296.22 L633.61,296.49 L634.44,296.81 L635.27,297.2 L636.1,297.64 L636.93,298.14 L637.76,298.69 L638.59,299.3 L639.42,299.96 L640.24,300.67 L641.07,301.43 L641.9,302.23 L642.73,303.08 L643.56,303.98 L644.39,304.91 L645.22,305.87 L646.05,306.88 L646.87,307.91 L647.7,308.97 L648.53,310.06 L649.36,311.17 L650.19,312.3 L651.02,313.45 L651.85,314.61 L652.67,315.78 L653.5,316.96 L654.33,318.15 L655.16,319.33 L655.99,320.51 L656.82,321.69 L657.65,322.86 L658.48,324.01 L659.3,325.15 L660.13,326.27 L660.96,327.37 L661.79,328.45 L662.62,329.5 L663.45,330.52 L664.28,331.5 L665.11,332.45 L665.93,333.37 L666.76,334.24 L667.59,335.07 L668.42,335.85 L669.25,336.59 L670.08,337.27 L670.91,337.91 L671.74,338.49 L672.56,339.02 L673.39,339.49 L674.22,339.9 L675.05,340.26 L675.88,340.55 L676.71,340.79 L677.54,340.96 L678.36,341.08 L679.19,341.13 L680.02,341.12" fill="none" stroke="rgb(98,188,172)" stroke-width="2.0" stroke-linecap="round" stroke-linejoin="round"/>
<path d="M580.58,386.35 L581.41,386.2 L582.24,385.95 L583.06,385.6 L583.89,385.15 L584.72,384.61 L585.55,383.97 L586.38,383.23 L587.21,382.41 L588.04,381.49 L588.86,380.48 L589.69,379.39 L590.52,378.22 L591.35,376.97 L592.18,375.65 L593.01,374.25 L593.84,372.79 L594.67,371.26 L595.49,369.68 L596.32,368.03 L597.15,366.34 L597.98,364.6 L598.81,362.82 L599.64,361.01 L600.47,359.16 L601.3,357.28 L602.12,355.39 L602.95,353.48 L603.78,351.55 L604.61,349.63 L605.44,347.7 L606.27,345.77 L607.1,343.86 L607.92,341.96 L608.75,340.08 L609.58,338.23 L610.41,336.4 L611.24,334.62 L612.07,332.87 L612.9,331.17 L613.73,329.52 L614.55,327.92 L615.38,326.38 L616.21,324.91 L617.04,323.5 L617.87,322.16 L618.7,320.9 L619.53,319.71 L620.36,318.61 L621.18,317.58 L622.01,316.65 L622.84,315.81 L623.67,315.05 L624.5,314.39 L625.33,313.83 L626.16,313.36 L626.99,313 L627.81,312.73 L628.64,312.56 L629.47,312.49 L630.3,312.52 L631.13,312.66 L631.96,312.89 L632.79,313.22 L633.61,313.66 L634.44,314.19 L635.27,314.81 L636.1,315.53 L636.93,316.34 L637.76,317.25 L638.59,318.24 L639.42,319.31 L640.24,320.47 L641.07,321.71 L641.9,323.02 L642.73,324.4 L643.56,325.86 L644.39,327.37 L645.22,328.95 L646.05,330.58 L646.87,332.27 L647.7,334 L648.53,335.77 L649.36,337.58 L650.19,339.43 L651.02,341.3 L651.85,343.19 L652.67,345.1 L653.5,347.02 L654.33,348.95 L655.16,350.88 L655.99,352.8 L656.82,354.72 L657.65,356.62 L658.48,358.5 L659.3,360.36 L660.13,362.19 L660.96,363.98 L661.79,365.74 L662.62,367.44 L663.45,369.1 L664.28,370.71 L665.11,372.26 L665.93,373.75 L666.76,375.17 L667.59,376.52 L668.42,377.79 L669.25,378.99 L670.08,380.11 L670.91,381.14 L671.74,382.09 L672.56,382.95 L673.39,383.72 L674.22,384.39 L675.05,384.97 L675.88,385.46 L676.71,385.84 L677.54,386.13 L678.36,386.31 L679.19,386.4 L680.02,386.38" fill="none" stroke="rgb(155,72,215)" stroke-width="2.0" stroke-linecap="round" stroke-linejoin="round"/>
<path d="M580.58,284.78 L680.02,284.78" fill="none" stroke="rgb(220,78,84)" stroke-width="2.0" stroke-linecap="round" stroke-linejoin="round"/>
</g>
<rect x="576.4" y="264.75" width="107.3" height="126.55" fill="none" stroke="#383838" stroke-width="1.4"/>
<line x1="569.6" y1="381.8" x2="576.4" y2="381.8" stroke="#2a2a2a" stroke-width="1.25"/>
<text x="561.2" y="381.8" font-size="10.6" text-anchor="middle" transform="rotate(-90 561.2 381.8)">−4</text>
<line x1="569.6" y1="363.02" x2="576.4" y2="363.02" stroke="#2a2a2a" stroke-width="1.25"/>
<line x1="569.6" y1="344.23" x2="576.4" y2="344.23" stroke="#2a2a2a" stroke-width="1.25"/>
<text x="561.2" y="344.23" font-size="10.6" text-anchor="middle" transform="rotate(-90 561.2 344.23)">0</text>
<line x1="569.6" y1="325.45" x2="576.4" y2="325.45" stroke="#2a2a2a" stroke-width="1.25"/>
<text x="561.2" y="325.45" font-size="10.6" text-anchor="middle" transform="rotate(-90 561.2 325.45)">2</text>
<line x1="569.6" y1="306.67" x2="576.4" y2="306.67" stroke="#2a2a2a" stroke-width="1.25"/>
<text x="561.2" y="306.67" font-size="10.6" text-anchor="middle" transform="rotate(-90 561.2 306.67)">4</text>
<line x1="569.6" y1="287.88" x2="576.4" y2="287.88" stroke="#2a2a2a" stroke-width="1.25"/>
<text x="561.2" y="287.88" font-size="10.6" text-anchor="middle" transform="rotate(-90 561.2 287.88)">6</text>
<line x1="569.6" y1="269.1" x2="576.4" y2="269.1" stroke="#2a2a2a" stroke-width="1.25"/>
<text x="561.2" y="269.1" font-size="10.6" text-anchor="middle" transform="rotate(-90 561.2 269.1)">8</text>
<line x1="580.5" y1="391.3" x2="580.5" y2="398.2" stroke="#262626" stroke-width="1.15"/>
<text x="580.3" y="415.5" font-size="10.6" text-anchor="middle">0</text>
<line x1="607.5" y1="391.3" x2="607.5" y2="398.2" stroke="#262626" stroke-width="1.15"/>
<text x="607.62" y="415.5" font-size="10.6" text-anchor="middle">100</text>
<line x1="634.5" y1="391.3" x2="634.5" y2="398.2" stroke="#262626" stroke-width="1.15"/>
<line x1="662.5" y1="391.3" x2="662.5" y2="398.2" stroke="#262626" stroke-width="1.15"/>
<text x="662.26" y="415.5" font-size="10.6" text-anchor="middle">300</text>
<text x="630.05" y="441.5" font-size="10.6" text-anchor="middle">day</text>
<text x="535.3" y="328.02" font-size="10.6" text-anchor="middle" transform="rotate(-90 535.3 328.02)">effect of weather</text>
<text x="630.05" y="243.9" font-size="13.2" font-weight="bold" text-anchor="middle" class="t">W4</text>
</svg></body></html>
